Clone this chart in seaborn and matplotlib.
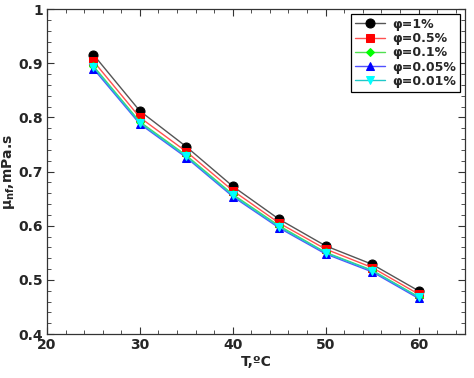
import matplotlib
matplotlib.use("Agg")
import matplotlib.pyplot as plt
import pandas as pd
import seaborn as sns
from matplotlib.ticker import MultipleLocator

temps = [25, 30, 35, 40, 45, 50, 55, 60]
phi_1 = [0.916, 0.812, 0.746, 0.673, 0.612, 0.563, 0.529, 0.480]
phi_05 = [0.904, 0.800, 0.737, 0.665, 0.605, 0.557, 0.523, 0.474]
phi_01 = [0.895, 0.792, 0.730, 0.658, 0.600, 0.551, 0.518, 0.469]
phi_005 = [0.890, 0.788, 0.726, 0.654, 0.596, 0.548, 0.515, 0.466]
phi_001 = [0.893, 0.790, 0.728, 0.656, 0.598, 0.550, 0.517, 0.468]
labels = ["φ=1%", "φ=0.5%", "φ=0.1%", "φ=0.05%", "φ=0.01%"]

series = [phi_1, phi_05, phi_01, phi_005, phi_001]
df = pd.concat(
    [pd.DataFrame({"T": temps, "mu": vals, "phi": lab}) for vals, lab in zip(series, labels)],
    ignore_index=True,
)

line_colors = ["#555555", "#ff5050", "#50e050", "#5050ff", "#20c8c8"]
face_colors = ["black", "red", "#00ff00", "blue", "cyan"]
markers = ["o", "s", "D", "^", "v"]
msizes = [6.5, 6, 4.5, 5.5, 6]

sns.set_theme(style="ticks")
plt.rcParams["font.family"] = ["DejaVu Sans"]

fig, ax = plt.subplots(figsize=(4.74, 3.78), dpi=100)
fig.subplots_adjust(left=0.099, right=0.981, bottom=0.116, top=0.976)

for lab, lc, fc, mk, ms in zip(labels, line_colors, face_colors, markers, msizes):
    sns.lineplot(data=df[df["phi"] == lab], x="T", y="mu", ax=ax, color=lc, marker=mk,
                 markersize=ms, markerfacecolor=fc, markeredgecolor=fc, linewidth=1,
                 label=lab)

ax.set_xlim(20, 65)
ax.set_ylim(0.4, 1.0)
ax.xaxis.set_major_locator(MultipleLocator(10))
ax.xaxis.set_minor_locator(MultipleLocator(2))
ax.yaxis.set_minor_locator(MultipleLocator(0.02))
ax.set_yticks([0.4, 0.5, 0.6, 0.7, 0.8, 0.9, 1.0])
ax.set_yticklabels(["0.4", "0.5", "0.6", "0.7", "0.8", "0.9", "1"])
ax.tick_params(which="both", direction="in", top=True, right=True, labelsize=10, color="#333333")
ax.tick_params(which="major", length=5, width=0.8, pad=3)
ax.tick_params(which="minor", length=3, width=0.6)
for t in ax.get_xticklabels() + ax.get_yticklabels():
    t.set_fontweight("bold")
for s in ax.spines.values():
    s.set_linewidth(0.9)
    s.set_color("#333333")

ax.set_xlabel("T,ºC", fontsize=10, fontweight="bold", labelpad=2)
ax.set_ylabel(r"μ$_{\mathregular{nf}}$,mPa.s", fontsize=10, fontweight="bold", labelpad=1)

leg = ax.legend(loc="upper right", fontsize=9, frameon=True, fancybox=False,
                edgecolor="black", framealpha=1, handlelength=2.4, borderaxespad=0.4,
                labelspacing=0.1, borderpad=0.3, handletextpad=0.6)
for t in leg.get_texts():
    t.set_fontweight("bold")
leg.get_frame().set_linewidth(0.9)

fig.savefig("out.png", dpi=100)
